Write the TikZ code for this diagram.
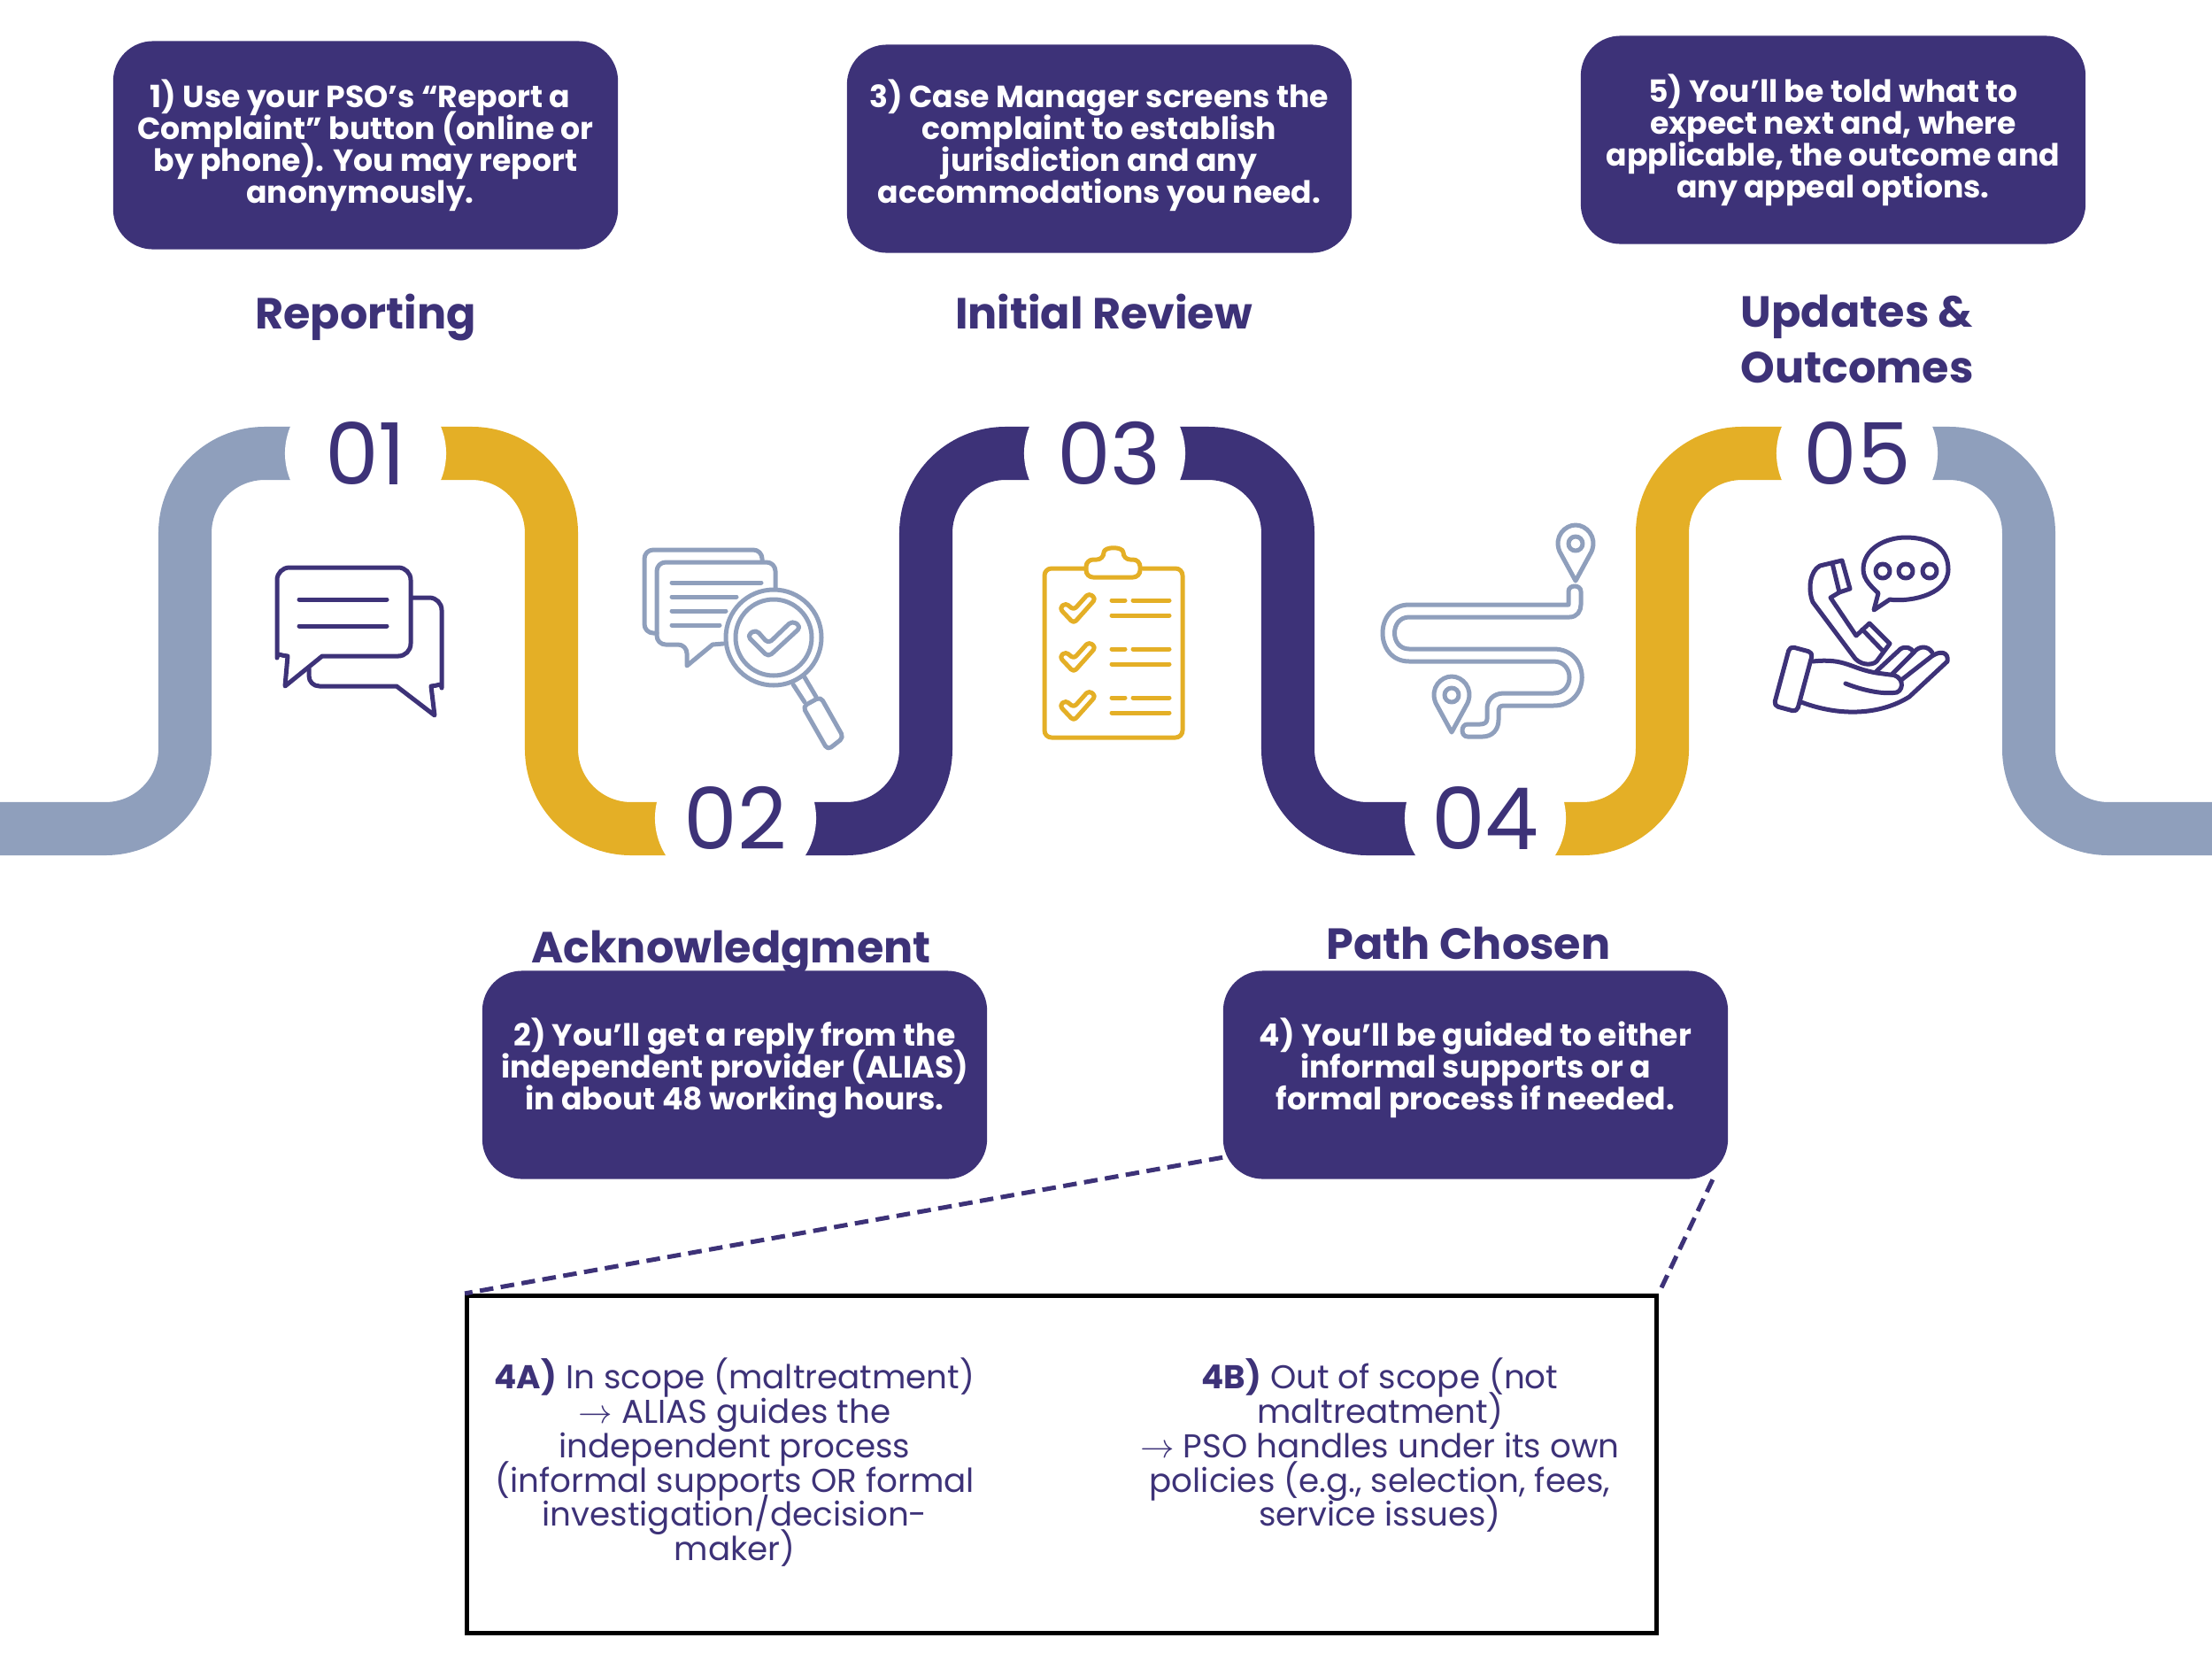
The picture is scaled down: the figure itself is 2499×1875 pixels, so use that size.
\documentclass[tikz,border=0pt]{standalone}
\usepackage{fontspec}
\setmainfont{Poppins}
\usepackage{xcolor}
\usetikzlibrary{positioning, shapes.geometric, calc, backgrounds}
\definecolor{psoNavy} {RGB}{61,50,120}
\definecolor{psoGold} {RGB}{228,175,38}
\definecolor{psoSlate}{RGB}{143,159,188}
\setlength{\lineskiplimit}{-20pt}
\begin{document}
\begin{tikzpicture}[x=0.01cm, y=-0.01cm,
    BAND/.style={line width=0.6cm, rounded corners=0.9cm},
    NUM/.style={ellipse, fill=white, inner sep=0pt, minimum width=1.82cm, minimum height=1.68cm, text=psoNavy, font=\fontsize{27.5}{30}\selectfont},
    HEAD/.style={text=psoNavy, align=center, font=\fontsize{14}{18}\selectfont\bfseries},
    BOX/.style={fill=psoNavy, rounded corners=0.45cm, minimum width=5.7cm, minimum height=2.35cm, inner sep=0pt, text=white, align=center, font=\fontsize{9.85}{10.24}\selectfont\bfseries},
    DETAIL/.style={text=psoNavy, align=center, font=\fontsize{10.6}{11.07}\selectfont},
    ICON/.style={line width=0.05cm, line cap=round, line join=round},
    LINK/.style={line width=0.05cm, dash pattern=on 4.4pt off 2.4pt, psoNavy}]
    \useasboundingbox (0,0) rectangle (2499,1875);
    \coordinate (leftend) at (0,936); \coordinate (rightend) at (2499,936);
    \coordinate (turn1) at (209,724); \coordinate (turn2) at (623,724); \coordinate (turn3) at (1046,724);
    \coordinate (turn4) at (1455,724); \coordinate (turn5) at (1878,724); \coordinate (turn6) at (2292,724);

    \node[NUM] (num1) at (413,512) {01};
    \node[NUM] (num2) at (831,924) {02};
    \node[NUM] (num3) at (1248,512) {\hspace*{2.8pt}03};
    \node[NUM] (num4) at (1678,924) {04};
    \node[NUM] (num5) at (2098,512) {05};
    \begin{scope}[on background layer]
        \draw[BAND, psoSlate] (leftend) -| (turn1) |- (num1.center);
        \draw[BAND, psoGold] (num1.center) -| (turn2) |- (num2.center |- leftend);
        \draw[BAND, psoNavy] (num2.center |- leftend) -| (turn3) |- (num3.center);
        \draw[BAND, psoNavy] (num3.center) -| (turn4) |- (num4.center |- leftend);
        \draw[BAND, psoGold] (num4.center |- leftend) -| (turn5) |- (num5.center);
        \draw[BAND, psoSlate] (num5.center) -| (turn6) |- (rightend);
    \end{scope}

    \node[HEAD] (head1) at (413,359) {Reporting};
    \node[HEAD] (head2) at (826,1076) {Acknowledgment};
    \node[HEAD] (head3) at (1247,352) {Initial Review};
    \node[HEAD] (head4) at (1659,1065) {Path Chosen};
    \node[HEAD] (head5) at (2098,383) {Updates \&\\Outcomes};

    \node[BOX] (box1) at (413,164) {1) Use your PSO’s “Report a\hspace*{3.4pt}\\Complaint” button (online or\hspace*{7pt}\\by phone). You may report\hspace*{7pt}\\anonymously.\hspace*{3.4pt}};
    \node[BOX] (box2) at (830,1214) {2) You’ll get a reply from the\\independent provider (ALIAS)\\in about 48 working hours.\\[-3.3pt]};
    \node[BOX] (box3) at (1242,168) {3) Case Manager screens the\\complaint to establish\\jurisdiction and any\\accommodations you need.\\[-5.3pt]};
    \node[BOX] (box4) at (1667,1214) {4) You’ll be guided to either\\informal supports or a\\formal process if needed.\\[-3.3pt]};
    \node[BOX] (box5) at (2071,158) {5) You’ll be told what to\\expect next and, where\\applicable, the outcome and\\any appeal options.};

    \node[draw, line width=0.05cm, minimum width=13.43cm, minimum height=3.81cm, inner sep=0pt] (detail) at (1199.5,1654) {};
    \node[DETAIL, anchor=north] (scopeA) at (830,1521) {\textbf{4A)} In scope (maltreatment)\\$\rightarrow$ ALIAS guides the\\independent process\\(informal supports OR formal\\investigation/decision-\\maker)};
    \node[DETAIL, anchor=north] (scopeB) at (1559,1521) {\textbf{4B)} Out of scope (not\\maltreatment)\\$\rightarrow$ PSO handles under its own\\policies (e.g., selection, fees,\\service issues)};
    \draw[LINK] ($(box4.south west)+(0,-25)$) -- (detail.north west);
    \draw[LINK] ($(box4.south east)+(-18,0)$) -- (detail.north east);

    % chat icon
    \begin{scope}[ICON, psoNavy, rounded corners=0.14cm]
        \draw (364,741) -- (464,741) -- (464,641) -- (313,641) -- (313,729) [sharp corners] .. controls (313,736) and (318,741) .. (325,741) -- (322,775) -- cycle;
        \draw (466,675) -- (499,675) -- (499,763) [sharp corners] .. controls (499,770) and (494,775) .. (487,775) -- (491,808) -- (448,775) -- (361,775) .. controls (354,775) and (349,770) .. (349,763) -- (349,755);
        \draw (338,677) -- (437,677); \draw (338,707) -- (437,707);
    \end{scope}
    % search icon
    \begin{scope}[ICON, psoSlate, rounded corners=0.1cm]
        \draw (861,633) -- (861,621) -- (728,621) -- (728,715) -- (742,715);
        \draw (876,665) -- (876,635) -- (742,635) -- (742,728) -- (776,728) [sharp corners] -- (776,752) -- (805,728) -- (817,727);
        \draw (759,658) -- (860,658); \draw (759,674) -- (832,674); \draw (759,690) -- (820,690); \draw (759,706) -- (813,706);
        \draw (874,720) circle (54); \draw (874,720) circle (43);
        \draw[rounded corners=0.05cm] (844,718) -- (854,711) -- (868,727) -- (895,701) -- (905,708) -- (868,742) -- cycle;
        \draw (896,773) -- (909,793); \draw (909,765) -- (922,787);
        \draw[rounded corners=0.05cm] (907,798) -- (927,787) -- (953,833) -- (935,847) -- cycle;
    \end{scope}
    % clipboard icon
    \begin{scope}[ICON, psoGold, rounded corners=0.08cm]
        \draw (1291,642) -- (1336,642) -- (1336,833) -- (1180,833) -- (1180,642) -- (1226,642);
        \draw (1227,632) -- (1247,632) .. controls (1247,617) and (1269,617) .. (1269,632) -- (1288,632) -- (1288,652) -- (1227,652) -- cycle;
        \foreach \rowy in {0,55,110} {
            \draw[yshift=-\rowy*0.01cm, rounded corners=0.04cm] (1197,687) -- (1204,681) -- (1213,689) -- (1230,670) -- (1238,676) -- (1213,704) -- cycle;
            \draw[yshift=-\rowy*0.01cm] (1256,678) -- (1271,678); \draw[yshift=-\rowy*0.01cm] (1280,678) -- (1321,678); \draw[yshift=-\rowy*0.01cm] (1256,695) -- (1321,695);
        }
    \end{scope}
    % route icon
    \begin{scope}[ICON, psoSlate]
        \draw (1772,668) -- (1772,683) -- (1592,683) .. controls (1552,683) and (1552,747) .. (1592,747) -- (1755,747) .. controls (1779,747) and (1779,783) .. (1755,783) -- (1699,783) .. controls (1686,783) and (1680,792) .. (1680,800) -- (1680,812) .. controls (1680,816) and (1677,818) .. (1672,818) -- (1658,818) .. controls (1650,818) and (1650,832) .. (1658,832) -- (1675,832) .. controls (1686,832) and (1693,824) .. (1693,813) -- (1693,802) .. controls (1693,799) and (1695,797) .. (1699,797) -- (1755,797) .. controls (1798,797) and (1798,733) .. (1755,733) -- (1592,733) .. controls (1570,733) and (1570,697) .. (1592,697) -- (1773,697) .. controls (1782,697) and (1786,690) .. (1786,683) -- (1786,668) .. controls (1786,660) and (1772,660) .. (1772,668) -- cycle;
        \foreach \pinx/\piny in {1780/614, 1640/785} {
            \begin{scope}[shift={(\pinx,\piny)}]
                \draw (0,42) -- (-18,9) .. controls (-25,-8) and (-12,-21) .. (0,-21) .. controls (12,-21) and (25,-8) .. (18,9) -- cycle;
                \draw (0,0) circle (8);
            \end{scope}
        }
    \end{scope}
    % phone icon
    \begin{scope}[ICON, psoNavy]
        \draw (2135,677) .. controls (2150,680) and (2201,675) .. (2201,643) .. controls (2201,615) and (2175,607) .. (2153,607) .. controls (2130,607) and (2105,620) .. (2105,643) .. controls (2105,655) and (2115,663) .. (2122,670) -- (2117,689) -- cycle;
        \foreach \dotx in {2127,2153,2180} { \draw (\dotx,645) circle (8); }
        \draw (2078,669) -- (2090,665) -- (2081,633) -- (2056,639) .. controls (2045,645) and (2042,665) .. (2048,680) -- (2093,740) .. controls (2100,752) and (2115,752) .. (2120,747) -- (2135,727) -- (2112,704) -- (2097,718) -- (2068,675) -- cycle;
        \draw (2070,636) -- (2078,669); \draw (2104,711) -- (2127,735);
        \draw[rounded corners=0.05cm] (2022,730) -- (2048,737) -- (2030,804) -- (2004,797) -- cycle;
        \draw (2048,747) .. controls (2085,743) and (2090,755) .. (2120,760) -- (2135,762) .. controls (2150,762) and (2152,778) .. (2143,782) .. controls (2125,785) and (2100,778) .. (2085,772);
        \draw (2035,793) .. controls (2080,810) and (2125,807) .. (2157,787) -- (2200,747) .. controls (2202,737) and (2192,733) .. (2180,743) -- (2148,768);
        \draw (2120,758) -- (2147,733) .. controls (2153,729) and (2160,732) .. (2162,737) -- (2137,762);
        \draw (2162,737) .. controls (2168,729) and (2178,729) .. (2183,737);
    \end{scope}
\end{tikzpicture}
\end{document}
